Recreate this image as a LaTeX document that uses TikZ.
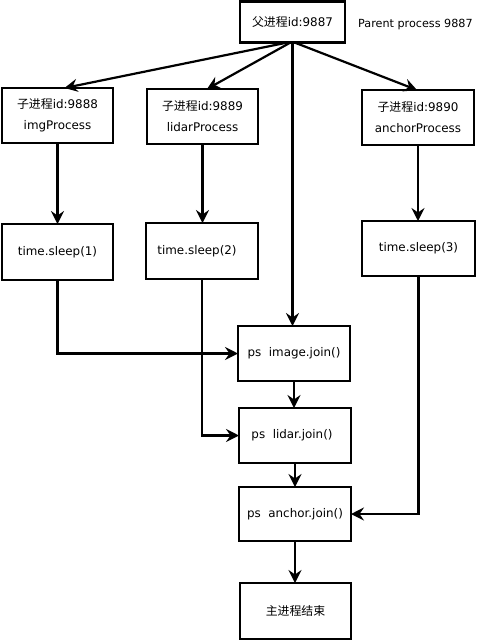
\documentclass[tikz,border=0pt]{standalone}
\usepackage{fontspec}
\setmainfont{DejaVu Sans}
\newfontfamily\cjk{Noto Sans CJK SC}
\usetikzlibrary{arrows.meta,calc}
\begin{document}
\begin{tikzpicture}[x=1pt,y=-1pt,
  box/.style={draw=black,line width=2.2pt,inner sep=0pt,outer sep=0pt,align=center,
    font=\fontsize{11.9}{21}\selectfont},
  conn/.style={line width=2.2pt,-{Stealth[length=13pt,width=13pt,inset=4.5pt]}}]
\fill[white] (0,0) rectangle (479,641);
\useasboundingbox (0,0) rectangle (479,641);
\node[box,minimum width=105pt,minimum height=41pt] (p) at (292.5,22) {{\cjk 父进程}id:9887};
\node[anchor=west,font=\fontsize{11.2}{12}\selectfont,inner sep=0pt] (pl) at (358,25) {Parent process 9887};
\node[box,minimum width=111pt,minimum height=55pt] (c1) at (57.5,115.5) {{\cjk 子进程}id:9888\\imgProcess};
\node[box,minimum width=111pt,minimum height=55pt] (c2) at (202.5,116.5) {{\cjk 子进程}id:9889\\lidarProcess};
\node[box,minimum width=112pt,minimum height=55pt] (c3) at (418,117.5) {{\cjk 子进程}id:9890\\anchorProcess};
\node[box,minimum width=111pt,minimum height=56pt] (s1) at (57.5,252) {time.sleep(1)};
\node[box,minimum width=112pt,minimum height=56pt] (s2) at (202,251) {\hspace*{-10pt}time.sleep(2)};
\node[box,minimum width=113pt,minimum height=55pt] (s3) at (418.5,248.5) {time.sleep(3)};
\node[box,minimum width=112pt,minimum height=55pt] (j1) at (294,353.5) {ps\ \ image.join()};
\node[box,minimum width=112pt,minimum height=55pt] (j2) at (295,435.5) {\hspace*{-6pt}ps\ \ lidar.join()};
\node[box,minimum width=112pt,minimum height=54pt] (j3) at (295,514) {ps\ \ anchor.join()};
\node[box,minimum width=111pt,minimum height=56pt] (e) at (295.5,611) {\cjk 主进程结束};
% parent to children
\draw[conn] ($(p.south)+(-5,0)$) -- ($(c1.north)+(7,0)$);
\draw[conn] ($(p.south)+(-2,0)$) -- ($(c2.north)+(4.5,0)$);
\draw[conn] ($(p.south)+(2,0)$) -- ($(c3.north)+(-1,0)$);
\draw[conn] (p.south) -- (p.south |- j1.north);
% children to sleeps
\draw[conn] (c1.south) -- (c1.south |- s1.north);
\draw[conn] (c2.south) -- (c2.south |- s2.north);
\draw[conn] (c3.south) -- (c3.south |- s3.north);
% sleeps to joins
\draw[conn] (s1.south) |- (j1.west);
\draw[conn] (s2.south) |- (j2.west);
\draw[conn] (s3.south) |- (j3.east);
% joins chain
\draw[conn] (j1.south) -- (j1.south |- j2.north);
\draw[conn] (j2.south) -- (j2.south |- j3.north);
\draw[conn] (j3.south) -- (j3.south |- e.north);
\end{tikzpicture}
\end{document}
